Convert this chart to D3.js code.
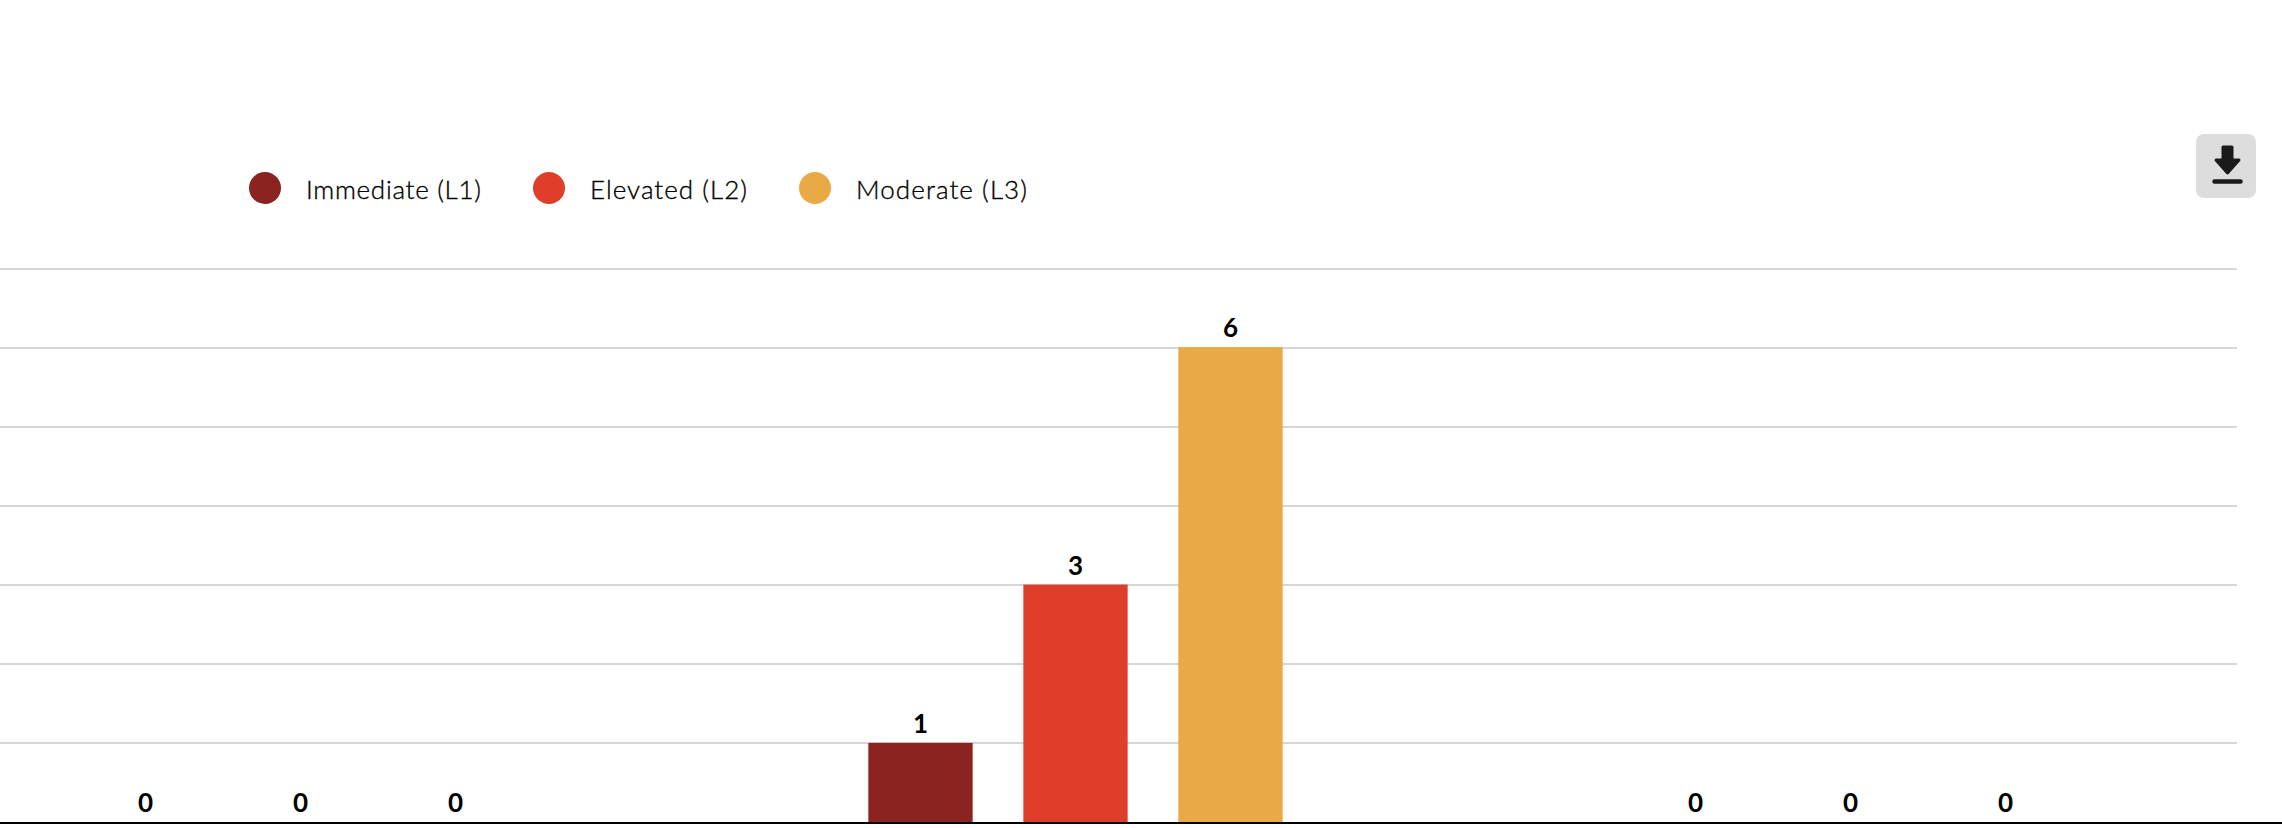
<!DOCTYPE html>
<html>
<head>
<meta charset="utf-8">
<style>
  html, body { margin: 0; padding: 0; background: #fff; }
  svg { display: block; font-family: Lato, sans-serif; }
</style>
</head>
<body>
<div id="chart"></div>
<script src="https://cdn.jsdelivr.net/npm/d3@7"></script>
<script>
const width = 2282;
const height = 828;

// the group labels are cut off in the picture, so these are only keys
const groups = ["left", "centre", "right"];
const levels = ["Immediate (L1)", "Elevated (L2)", "Moderate (L3)"];
const colors = ["#8b2321", "#df3f2a", "#e9a945"];

const immediate = [0, 1, 0];
const elevated = [0, 3, 0];
const moderate = [0, 6, 0];
const series = [immediate, elevated, moderate];

const yTicks = [0, 1, 2, 3, 4, 5, 6, 7];

const svg = d3.select("#chart").append("svg")
              .attr("width", width)
              .attr("height", height);

const x0 = d3.scaleBand().domain(groups).range([-87, 2238]);
const x1 = d3.scaleBand().domain(levels).range([-232.5, 232.5]).paddingInner(0.327).paddingOuter(0.1635);
const y = d3.scaleLinear().domain([0, 7]).range([822, 269]);
// bars sit a hair above their gridlines in the reference
const yBar = d3.scaleLinear().domain([0, 7]).range([822, 268]);
const gridRight = 2237;

// gridlines
const grid = svg.append("g")
  .attr("transform", `translate(${gridRight},0)`)
  .call(d3.axisLeft(y).offset(0).tickValues(yTicks.slice(1)).tickSize(gridRight).tickFormat(""));
grid.select(".domain").remove();
grid.selectAll("line").attr("stroke", "#d6d6d6").attr("stroke-width", 2);

// bars and value labels
levels.forEach((level, i) => {
  const g = svg.append("g");
  const rows = groups.map((group, j) => ({ group, value: series[i][j] }));

  g.selectAll("rect")
    .data(rows.filter(d => d.value > 0))
    .join("rect")
    .attr("x", d => x0(d.group) + x0.bandwidth() / 2 + x1(level))
    .attr("y", d => yBar(d.value))
    .attr("width", x1.bandwidth())
    .attr("height", d => yBar(0) - yBar(d.value))
    .attr("fill", colors[i]);

  g.selectAll("text")
    .data(rows)
    .join("text")
    .attr("x", d => x0(d.group) + x0.bandwidth() / 2 + x1(level) + x1.bandwidth() / 2)
    .attr("y", d => yBar(d.value) - 10)
    .attr("text-anchor", "middle")
    .attr("fill", "#000")
    .style("font-size", "26px")
    .style("font-weight", 700)
    .text(d => d.value);
});

// baseline
const axis = svg.append("g")
  .attr("transform", `translate(0,${y(0) + 1})`)
  .call(d3.axisBottom(d3.scaleLinear().domain([0, 1]).range([0, width])).offset(0).tickValues([]).tickSize(0));
axis.select(".domain").attr("stroke", "#000").attr("stroke-width", 2);

// legend, label widths stretched to the ones in the picture
const legendWidths = [175, 157, 171];
let legendX = 249;
levels.forEach((level, i) => {
  svg.append("circle")
    .attr("cx", legendX + 16)
    .attr("cy", 188)
    .attr("r", 16)
    .attr("fill", colors[i]);
  svg.append("text")
    .attr("x", legendX + 57)
    .attr("y", 199)
    .attr("fill", "#000")
    .attr("stroke", "#000")
    .attr("stroke-width", 0.35)
    .attr("textLength", legendWidths[i])
    .attr("lengthAdjust", "spacing")
    .style("font-size", "26px")
    .style("font-weight", 300)
    .text(level);
  legendX += 57 + legendWidths[i] + 52;
});

// download button
const button = svg.append("g").attr("transform", "translate(2196,134)");
button.append("rect")
  .attr("width", 60)
  .attr("height", 64)
  .attr("rx", 8)
  .attr("fill", "#dddddd");
button.append("path")
  .attr("d", "M27 13H36V26H43L31.5 39L20 26H27Z")
  .attr("fill", "#1a1a1a")
  .attr("stroke", "#1a1a1a")
  .attr("stroke-width", 3)
  .attr("stroke-linejoin", "round");
button.append("line")
  .attr("x1", 18.5).attr("x2", 44.5)
  .attr("y1", 47.5).attr("y2", 47.5)
  .attr("stroke", "#1a1a1a")
  .attr("stroke-width", 4.5)
  .attr("stroke-linecap", "round");
</script>
</body>
</html>
